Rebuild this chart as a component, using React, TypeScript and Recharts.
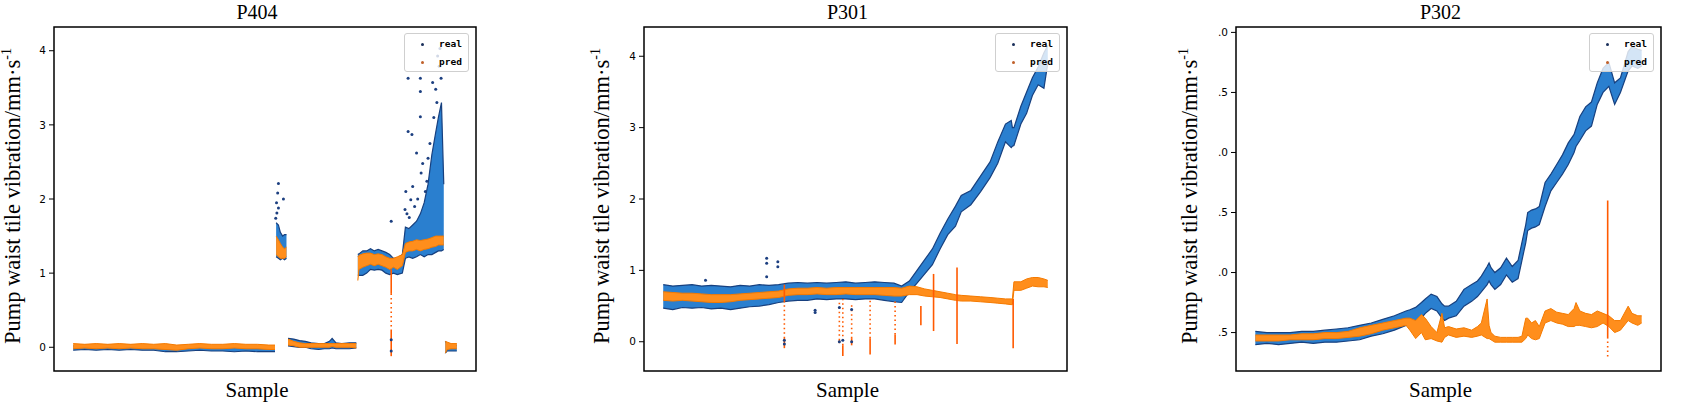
import React from 'react';
import { ComposedChart, Area, Scatter, XAxis, YAxis, ReferenceArea, ReferenceLine, Legend } from 'recharts';

// ---------- P404 ----------
const p404X = [
  0, 30, 60, 90, 120, 150, 180, 210, 240, 270, 300, 330, 360, 390, 420, 450, 480, 510, 526,
  527,
  529, 535, 540, 546, 551, 556,
  558,
  560, 575, 590, 605, 620, 640, 655, 668, 675, 685, 700, 720, 738,
  740,
  742, 745, 755, 765, 775, 785, 795, 805, 815, 825, 835, 845, 858,
  866, 875, 885, 895, 905, 915, 925, 935, 945, 952, 960, 966,
  968,
  970, 975, 985, 1000,
];
const p404RealLo = [
  -0.04, -0.03, -0.04, -0.03, -0.04, -0.03, -0.04, -0.04, -0.06, -0.06, -0.05, -0.04, -0.05, -0.05, -0.06, -0.05, -0.06, -0.06, -0.06,
  null,
  1.22, 1.2, 1.18, 1.2, 1.18, 1.2,
  null,
  0.02, 0.01, 0.0, 0.0, -0.02, -0.03, -0.02, -0.02, -0.01, -0.02, -0.02, -0.02, -0.01,
  null,
  0.98, 0.97, 0.97, 1.0, 1.05, 1.04, 1.05, 1.04, 1.0, 0.98, 1.0, 0.98, 1.0,
  1.2, 1.22, 1.2, 1.22, 1.25, 1.22, 1.25, 1.25, 1.28, 1.3, 1.3, 1.32,
  null,
  -0.08, -0.05, -0.05, -0.05,
];
const p404RealHi = [
  0.02, 0.03, 0.02, 0.03, 0.02, 0.03, 0.02, 0.02, 0.01, 0.0, 0.01, 0.02, 0.01, 0.01, 0.01, 0.01, 0.0, 0.0, 0.0,
  null,
  1.68, 1.65, 1.55, 1.5, 1.52, 1.52,
  null,
  0.12, 0.11, 0.09, 0.08, 0.06, 0.05, 0.05, 0.08, 0.12, 0.06, 0.05, 0.06, 0.06,
  null,
  1.25, 1.26, 1.3, 1.3, 1.33, 1.3, 1.32, 1.3, 1.28, 1.25, 1.2, 1.2, 1.25,
  1.62, 1.6, 1.65, 1.7, 1.8, 1.95, 2.2, 2.6, 2.9, 3.1, 3.3, 2.2,
  null,
  0.08, 0.04, 0.03, 0.03,
];
const p404PredLo = [
  -0.02, -0.01, -0.02, -0.01, -0.02, -0.01, -0.02, -0.02, -0.03, -0.04, -0.02, -0.01, -0.02, -0.02, -0.01, -0.02, -0.02, -0.03, -0.03,
  null,
  1.25, 1.22, 1.2, 1.2, 1.2, 1.22,
  null,
  0.03, 0.02, 0.0, 0.0, 0.0, 0.0, 0.0, 0.0, 0.01, 0.0, 0.0, 0.0, -0.01,
  null,
  0.9, 1.05, 1.08, 1.1, 1.12, 1.1, 1.12, 1.1, 1.08, 1.05, 1.08, 1.05, 1.1,
  1.28, 1.3, 1.3, 1.32, 1.3, 1.32, 1.33, 1.35, 1.36, 1.38, 1.38, 1.38,
  null,
  -0.08, -0.03, -0.02, -0.02,
];
const p404PredHi = [
  0.05, 0.04, 0.05, 0.04, 0.05, 0.04, 0.05, 0.04, 0.05, 0.03, 0.04, 0.05, 0.04, 0.04, 0.05, 0.04, 0.04, 0.03, 0.03,
  null,
  1.5, 1.45, 1.4, 1.35, 1.33, 1.35,
  null,
  0.11, 0.08, 0.06, 0.05, 0.05, 0.05, 0.05, 0.05, 0.05, 0.05, 0.05, 0.05, 0.05,
  null,
  1.22, 1.24, 1.26, 1.27, 1.27, 1.25, 1.26, 1.25, 1.22, 1.2, 1.2, 1.22, 1.25,
  1.4, 1.42, 1.43, 1.45, 1.44, 1.45, 1.46, 1.48, 1.5, 1.5, 1.5, 1.5,
  null,
  0.08, 0.07, 0.05, 0.05,
];
const p404DotX = [
  528, 531, 533, 535, 535, 530, 548, 829, 829, 829,
  865, 867, 870, 873, 873, 876, 880, 883, 885, 890, 895, 898, 905, 905, 905, 907, 911, 918, 922, 925, 930, 937, 940, 945, 948, 950, 954, 956, 959,
];
const p404DotY = [
  1.74, 1.81, 2.08, 2.21, 1.88, 1.95, 2.0, 1.7, 0.1, -0.05,
  1.86, 2.1, 1.8, 3.63, 2.91, 1.75, 1.99, 2.87, 2.17, 1.9, 2.62, 2.0, 3.63, 3.45, 3.11, 2.35, 2.48, 2.1, 2.24, 2.55, 2.75, 3.57, 3.1, 3.48, 3.3, 3.93, 3.79, 4.03, 3.63,
];
const p404SpikeX = [829, 829];
const p404SpikeLo = [0.72, -0.12];
const p404SpikeHi = [1.05, 0.22];
const p404DashX = [829];
const p404DashLo = [0.22];
const p404DashHi = [0.72];

// ---------- P301 ----------
const p301X = [
  0, 25, 50, 75, 100, 125, 150, 175, 200, 225, 250, 275, 300, 325, 350, 375, 400, 425, 450, 475, 500, 525, 550, 575, 600,
  620, 640, 660, 680, 700, 720, 740, 760, 775, 800, 825, 850, 870, 890, 905, 908, 912, 930, 945, 960, 975, 990, 1000,
];
const p301RealLo = [
  0.47, 0.45, 0.48, 0.47, 0.48, 0.46, 0.47, 0.45, 0.47, 0.49, 0.5, 0.52, 0.55, 0.57, 0.58, 0.58, 0.6, 0.59, 0.6, 0.6, 0.59, 0.6, 0.6, 0.58, 0.56,
  0.55, 0.7, 0.82, 0.95, 1.08, 1.3, 1.5, 1.62, 1.82, 1.92, 2.1, 2.3, 2.5, 2.8, 2.72, 2.74, 2.75, 3.05, 3.2, 3.45, 3.6, 3.55, 3.9,
];
const p301RealHi = [
  0.8, 0.78, 0.79, 0.8, 0.78, 0.79, 0.78, 0.77, 0.79, 0.78, 0.8, 0.79, 0.8, 0.82, 0.83, 0.82, 0.83, 0.82, 0.83, 0.84, 0.82, 0.83, 0.84, 0.83, 0.82,
  0.78, 0.85, 1.0, 1.15, 1.3, 1.52, 1.72, 1.9, 2.05, 2.12, 2.32, 2.52, 2.8, 3.05, 3.1, 3.0, 3.0, 3.3, 3.5, 3.7, 3.85, 4.05, 4.15,
];
const p301PredLo = [
  0.58, 0.57, 0.58, 0.57, 0.56, 0.55, 0.55, 0.56, 0.58, 0.59, 0.6, 0.61, 0.62, 0.65, 0.66, 0.66, 0.67, 0.66, 0.66, 0.67, 0.66, 0.66, 0.66, 0.65, 0.64,
  0.64, 0.66, 0.66, 0.64, 0.63, 0.62, 0.6, 0.58, 0.57, 0.57, 0.56, 0.55, 0.54, 0.53, 0.52, 0.52, 0.72, 0.72, 0.75, 0.78, 0.77, 0.77, 0.76,
];
const p301PredHi = [
  0.7, 0.69, 0.68, 0.68, 0.67, 0.66, 0.66, 0.66, 0.67, 0.68, 0.69, 0.7, 0.71, 0.74, 0.75, 0.75, 0.76, 0.75, 0.76, 0.76, 0.76, 0.76, 0.76, 0.76, 0.76,
  0.75, 0.78, 0.77, 0.74, 0.72, 0.7, 0.68, 0.66, 0.65, 0.64, 0.63, 0.62, 0.61, 0.6, 0.6, 0.6, 0.84, 0.84, 0.88, 0.9, 0.9, 0.88, 0.86,
];
const p301DotX = [110, 269, 269, 269, 298, 298, 395, 395, 458, 458, 467, 490, 490, 315, 315];
const p301DotY = [0.86, 1.17, 1.1, 0.91, 1.12, 1.05, 0.44, 0.41, 0.0, 0.48, 0.02, 0.0, 0.45, 0.02, -0.03];
const p301SpikeX = [315, 315, 458, 467, 490, 538, 603, 670, 703, 764, 910];
const p301SpikeLo = [-0.09, 0.55, -0.02, -0.2, -0.05, -0.18, -0.04, 0.23, 0.15, -0.03, -0.09];
const p301SpikeHi = [0.05, 0.8, 0.02, -0.05, 0.05, 0.05, 0.1, 0.5, 0.95, 1.04, 0.6];
const p301DashX = [315, 458, 467, 490, 538, 603];
const p301DashLo = [0.05, 0.02, -0.05, 0.05, 0.05, 0.1];
const p301DashHi = [0.55, 0.55, 0.6, 0.55, 0.6, 0.6];

// ---------- P302 ----------
const p302X = [
  0, 30, 60, 90, 120, 150, 180, 210, 240, 270, 300, 330, 360, 390, 400, 415, 430, 440, 455, 470, 483, 490, 500, 520,
  540, 560, 575, 585, 600, 605, 610, 620, 635, 650, 665, 680, 690, 700, 705, 715, 725, 735, 750, 765, 780, 795,
  810, 825, 830, 840, 855, 870, 885, 900, 915, 930, 945, 965, 975, 990, 1000,
];
const p302RealLo = [
  0.4, 0.41, 0.4, 0.41, 0.42, 0.41, 0.42, 0.42, 0.43, 0.44, 0.47, 0.49, 0.52, 0.56, 0.57, 0.59, 0.62, 0.66, 0.7, 0.68, 0.62, 0.6, 0.62, 0.64,
  0.72, 0.76, 0.8, 0.84, 0.9, 0.93, 0.9, 0.86, 0.9, 0.98, 0.92, 0.95, 1.1, 1.25, 1.35, 1.37, 1.38, 1.4, 1.55, 1.68, 1.75, 1.82,
  1.9, 2.0, 2.05, 2.1, 2.18, 2.22, 2.4, 2.5, 2.55, 2.4, 2.5, 2.68, 2.72, 2.7, 2.72,
];
const p302RealHi = [
  0.51, 0.5, 0.5, 0.5, 0.51, 0.51, 0.52, 0.53, 0.54, 0.56, 0.58, 0.61, 0.64, 0.68, 0.69, 0.71, 0.75, 0.78, 0.82, 0.8, 0.74, 0.72, 0.72, 0.76,
  0.86, 0.9, 0.93, 0.97, 1.05, 1.08, 1.04, 1.0, 1.04, 1.12, 1.05, 1.1, 1.25, 1.4, 1.5, 1.52, 1.53, 1.55, 1.75, 1.82, 1.9, 1.98,
  2.08, 2.15, 2.2, 2.3, 2.38, 2.42, 2.58, 2.7, 2.75, 2.58, 2.62, 2.84, 2.88, 2.86, 2.85,
];
const p302PredLo = [
  0.43, 0.43, 0.43, 0.44, 0.44, 0.44, 0.45, 0.45, 0.46, 0.47, 0.49, 0.52, 0.54, 0.56, 0.52, 0.45, 0.5, 0.44, 0.45, 0.43, 0.42, 0.46, 0.48, 0.46,
  0.47, 0.46, 0.47, 0.48, 0.45, 0.45, 0.44, 0.42, 0.42, 0.42, 0.42, 0.42, 0.42, 0.45, 0.48, 0.45, 0.44, 0.45, 0.58, 0.6, 0.58, 0.57,
  0.55, 0.55, 0.56, 0.56, 0.55, 0.54, 0.55, 0.58, 0.55, 0.5, 0.52, 0.6, 0.58, 0.56, 0.58,
];
const p302PredHi = [
  0.48, 0.48, 0.48, 0.48, 0.49, 0.49, 0.5, 0.5, 0.51, 0.54, 0.56, 0.58, 0.6, 0.62, 0.62, 0.6, 0.65, 0.62, 0.55, 0.5, 0.66, 0.54, 0.55, 0.53,
  0.54, 0.52, 0.55, 0.58, 0.78, 0.56, 0.5, 0.47, 0.46, 0.46, 0.46, 0.46, 0.47, 0.62, 0.62, 0.58, 0.6, 0.55, 0.68, 0.7, 0.67, 0.66,
  0.65, 0.7, 0.75, 0.68, 0.66, 0.65, 0.68, 0.66, 0.64, 0.6, 0.6, 0.72, 0.66, 0.64, 0.64,
];
const p302DotX: number[] = [];
const p302DotY: number[] = [];
const p302SpikeX = [912];
const p302SpikeLo = [0.45];
const p302SpikeHi = [1.6];
const p302DashX = [912];
const p302DashLo = [0.3];
const p302DashHi = [0.45];

// ---------- shared layout ----------
const PLOT_TOP = 27;
const PLOT_BOTTOM = 371;
const CHART_H = 405;
const AXIS_W = 60;
const RIGHT_PAD = 12;
const X_DOMAIN: [number, number] = [-50, 1050];

const REAL_FILL = '#2a7fcf';
const REAL_EDGE = '#17407f';
const PRED_FILL = '#ff8e1c';
const PRED_EDGE = '#f57a00';
const SPIKE = '#ff5a00';
const SERIF = "'Liberation Serif', 'Times New Roman', serif";

interface Row {
  x: number;
  realLo: number | null;
  realHi: number | null;
  predLo: number | null;
  predHi: number | null;
}

interface Seg {
  x: number;
  lo: number;
  hi: number;
}

interface PanelProps {
  title: string;
  rows: Row[];
  dots: { x: number; y: number }[];
  spikes: Seg[];
  dashes: Seg[];
  yDomain: [number, number];
  yTicks: number[];
  tickFmt?: (v: number) => string;
  plotLeft: number;
  plotRight: number;
  labelGap: number;
}

const toRows = (x: number[], rLo: (number | null)[], rHi: (number | null)[], pLo: (number | null)[], pHi: (number | null)[]): Row[] =>
  x.map((v, i) => ({ x: v, realLo: rLo[i], realHi: rHi[i], predLo: pLo[i], predHi: pHi[i] }));

const toPoints = (x: number[], y: number[]) => x.map((v, i) => ({ x: v, y: y[i] }));

const toSegs = (x: number[], lo: number[], hi: number[]): Seg[] => x.map((v, i) => ({ x: v, lo: lo[i], hi: hi[i] }));

const realRange = (d: Row) => (d.realLo == null ? null : [d.realLo, d.realHi]);
const predRange = (d: Row) => (d.predLo == null ? null : [d.predLo, d.predHi]);

const yLabel = (gap: number) => (props: any) => {
  const vb = props.viewBox;
  const bx = vb.x + vb.width - gap;
  const cy = 196;
  return (
    <text x={bx} y={cy} transform={`rotate(-90 ${bx} ${cy})`} textAnchor="middle" fontFamily={SERIF} fontSize={22.5} fill="#000">
      Pump waist tile vibration/mm·s<tspan dy={-9} fontSize={14}>-1</tspan>
    </text>
  );
};

const frameLabel = (title: string) => (props: any) => {
  const vb = props.viewBox;
  const cx = vb.x + vb.width / 2 - 8;
  return (
    <g>
      <text x={cx} y={vb.y - 8} textAnchor="middle" fontFamily={SERIF} fontSize={20} fill="#000">
        {title}
      </text>
      <text x={cx} y={vb.y + vb.height + 26} textAnchor="middle" fontFamily={SERIF} fontSize={21} fill="#000">
        Sample
      </text>
    </g>
  );
};

const LEGEND_ITEMS = [
  { name: 'real', color: '#1a2f5a' },
  { name: 'pred', color: '#c0602a' },
];

const LegendBox = () => (
  <div
    style={{
      position: 'relative',
      width: 63,
      height: 37,
      border: '1px solid #cfcfcf',
      borderRadius: 3,
      background: 'rgba(255,255,255,0.8)',
    }}
  >
    {LEGEND_ITEMS.map((it, i) => (
      <div key={it.name} style={{ position: 'absolute', left: 0, right: 0, top: 3 + i * 18, height: 14 }}>
        <span
          style={{ position: 'absolute', left: 16, top: 6, width: 3, height: 3, borderRadius: '50%', background: it.color }}
        />
        <span
          style={{
            position: 'absolute',
            right: 6,
            top: 0,
            lineHeight: '14px',
            fontFamily: "'DejaVu Sans Mono', monospace",
            fontSize: 9.5,
            fontWeight: 'bold',
            color: '#000',
          }}
        >
          {it.name}
        </span>
      </div>
    ))}
  </div>
);

const PanelChart: React.FC<{ p: PanelProps }> = ({ p }) => {
  const plotW = p.plotRight - p.plotLeft;
  const width = AXIS_W + plotW + RIGHT_PAD;
  return (
    <div style={{ position: 'absolute', left: p.plotLeft - AXIS_W, top: 0 }}>
      <ComposedChart
        width={width}
        height={CHART_H}
        data={p.rows}
        margin={{ top: PLOT_TOP, right: RIGHT_PAD, bottom: 0, left: 0 }}
      >
        <XAxis
          type="number"
          dataKey="x"
          domain={X_DOMAIN}
          tick={false}
          tickLine={false}
          axisLine={false}
          height={CHART_H - PLOT_BOTTOM}
        />
        <YAxis
          type="number"
          domain={p.yDomain}
          ticks={p.yTicks}
          interval={0}
          width={AXIS_W}
          axisLine={false}
          tickLine={{ stroke: '#000' }}
          tickSize={5}
          tickMargin={3}
          tick={{ fill: '#000', fontSize: 10.5, fontFamily: "'DejaVu Sans', sans-serif" }}
          tickFormatter={p.tickFmt}
          label={yLabel(p.labelGap)}
        />
        <Area
          type="linear"
          dataKey={realRange}
          name="real"
          fill={REAL_FILL}
          fillOpacity={1}
          stroke={REAL_EDGE}
          strokeWidth={1.2}
          dot={false}
          activeDot={false}
          isAnimationActive={false}
        />
        <Area
          type="linear"
          dataKey={predRange}
          name="pred"
          fill={PRED_FILL}
          fillOpacity={1}
          stroke={PRED_EDGE}
          strokeWidth={1}
          dot={false}
          activeDot={false}
          isAnimationActive={false}
        />
        {p.dashes.map((s, i) => (
          <ReferenceLine
            key={`d${i}`}
            segment={[{ x: s.x, y: s.lo }, { x: s.x, y: s.hi }]}
            stroke={SPIKE}
            strokeWidth={1.6}
            strokeDasharray="1.5 3"
            ifOverflow="visible"
          />
        ))}
        {p.spikes.map((s, i) => (
          <ReferenceLine
            key={`s${i}`}
            segment={[{ x: s.x, y: s.lo }, { x: s.x, y: s.hi }]}
            stroke={SPIKE}
            strokeWidth={1.6}
            ifOverflow="visible"
          />
        ))}
        {p.dots.length > 0 && (
          <Scatter
            data={p.dots}
            dataKey="y"
            name="real outliers"
            isAnimationActive={false}
            shape={(s: any) => <circle cx={s.cx} cy={s.cy} r={1.5} fill="#1c3f80" />}
          />
        )}
        <ReferenceArea
          x1={X_DOMAIN[0]}
          x2={X_DOMAIN[1]}
          y1={p.yDomain[0]}
          y2={p.yDomain[1]}
          fill="none"
          stroke="#000"
          strokeWidth={1.5}
          ifOverflow="visible"
          label={frameLabel(p.title)}
        />
        <Legend
          layout="horizontal"
          align="center"
          verticalAlign="middle"
          content={() => <LegendBox />}
          wrapperStyle={{ left: AXIS_W + plotW - 7 - 65, top: 33, width: 65, height: 39 }}
        />
      </ComposedChart>
    </div>
  );
};

const panels: PanelProps[] = [
  {
    title: 'P404',
    rows: toRows(p404X, p404RealLo, p404RealHi, p404PredLo, p404PredHi),
    dots: toPoints(p404DotX, p404DotY),
    spikes: toSegs(p404SpikeX, p404SpikeLo, p404SpikeHi),
    dashes: toSegs(p404DashX, p404DashLo, p404DashHi),
    yDomain: [-0.32, 4.32],
    yTicks: [0, 1, 2, 3, 4],
    plotLeft: 54,
    plotRight: 476,
    labelGap: 34,
  },
  {
    title: 'P301',
    rows: toRows(p301X, p301RealLo, p301RealHi, p301PredLo, p301PredHi),
    dots: toPoints(p301DotX, p301DotY),
    spikes: toSegs(p301SpikeX, p301SpikeLo, p301SpikeHi),
    dashes: toSegs(p301DashX, p301DashLo, p301DashHi),
    yDomain: [-0.41, 4.41],
    yTicks: [0, 1, 2, 3, 4],
    plotLeft: 644,
    plotRight: 1067,
    labelGap: 35,
  },
  {
    title: 'P302',
    rows: toRows(p302X, p302RealLo, p302RealHi, p302PredLo, p302PredHi),
    dots: toPoints(p302DotX, p302DotY),
    spikes: toSegs(p302SpikeX, p302SpikeLo, p302SpikeHi),
    dashes: toSegs(p302DashX, p302DashLo, p302DashHi),
    yDomain: [0.18, 3.045],
    yTicks: [0.5, 1, 1.5, 2, 2.5, 3],
    // the leading digit is cut off in the original labels
    tickFmt: (v: number) => '.' + Math.round((v % 1) * 10),
    plotLeft: 1236,
    plotRight: 1661,
    labelGap: 39,
  },
];

const App: React.FC = () => (
  <div style={{ position: 'absolute', left: 0, top: 0, width: 1707, height: 405, background: '#fff', overflow: 'hidden' }}>
    {panels.map((p) => (
      <PanelChart key={p.title} p={p} />
    ))}
  </div>
);

export default App;
